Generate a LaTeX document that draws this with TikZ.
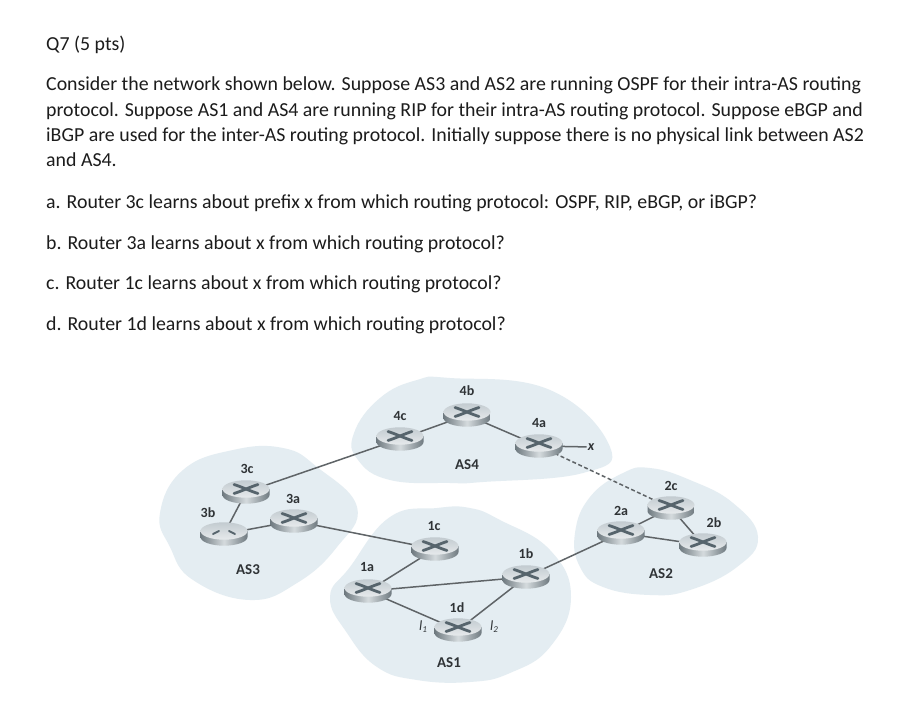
\documentclass[tikz,border=0pt]{standalone}
\usepackage{fontspec}
\setmainfont{Carlito}
\usetikzlibrary{shapes.geometric}
\definecolor{blob}{HTML}{E4EDF2}
\definecolor{linkc}{HTML}{5F6467}
\definecolor{xc}{HTML}{56646C}
\definecolor{topL}{HTML}{E6EAEC}
\definecolor{topD}{HTML}{C3CBD0}
\definecolor{sideD}{HTML}{6F7A80}
\definecolor{sideL}{HTML}{D5DBDE}
\definecolor{txt}{HTML}{1C1C1C}
\definecolor{lab}{HTML}{2F3336}
\tikzset{
  body/.style={inner sep=0pt,anchor=base west,font=\fontsize{19.85}{22}\selectfont,text=txt},
  lbl/.style={inner sep=0pt,font=\fontsize{14}{15}\selectfont\bfseries,text=lab},
  aslbl/.style={inner sep=0pt,font=\fontsize{15}{16}\selectfont\bfseries,text=lab},
  rnode/.style={ellipse,minimum width=45pt,minimum height=20pt,inner sep=0pt},
  link/.style={draw=linkc,line width=1.5pt},
  xstroke/.style={draw=xc,line width=2.8pt,line cap=round},
}
\newcommand{\routerart}[2][1]{%
  \begin{scope}[shift={(#2)}]
    \shade[left color=sideD,right color=sideD,middle color=sideL]
      (-23.5,-3) -- (-23.5,3) arc[start angle=180,end angle=0,x radius=23.5,y radius=8.7] -- (23.5,-3) -- cycle;
    \shade[top color=topD,bottom color=topL] (0,-3) ellipse[x radius=23.5,y radius=8.7];
    \ifnum#1=1
      \draw[xstroke] (-12,-7.5) .. controls (-4,-5) and (4,-1) .. (12,1.5);
      \draw[xstroke] (12,-7.5) .. controls (4,-5) and (-4,-1) .. (-12,1.5);
    \else
      \draw[xstroke,line width=2pt] (-5,-3) -- (-11,0);
      \draw[xstroke,line width=2pt] (5,-3) -- (11,0);
    \fi
  \end{scope}}
\begin{document}
\begin{tikzpicture}[x=1pt,y=-1pt]
\useasboundingbox (0,0) rectangle (910,703);
\fill[white] (0,0) rectangle (910,703);
% question text
\node[body] (q)  at (46,51) {Q7 (5 pts)};
\node[body] (l1) at (46,91) {Consider the network shown below. Suppose AS3 and AS2 are running OSPF for their intra-AS routing};
\node[body] (l2) at (46,117) {protocol. Suppose AS1 and AS4 are running RIP for their intra-AS routing protocol. Suppose eBGP and};
\node[body] (l3) at (46,142) {iBGP are used for the inter-AS routing protocol. Initially suppose there is no physical link between AS2};
\node[body] (l4) at (46,167) {and AS4.};
\node[body] (a) at (46,209) {a. Router 3c learns about prefix x from which routing protocol: OSPF, RIP, eBGP, or iBGP?};
\node[body] (b) at (46,249.5) {b. Router 3a learns about x from which routing protocol?};
\node[body] (c) at (46,290) {c. Router 1c learns about x from which routing protocol?};
\node[body] (d) at (46,330.5) {d. Router 1d learns about x from which routing protocol?};
% AS regions
\fill[blob] plot[smooth cycle,tension=0.75] coordinates {(160,513)(183,470)(233,450)(283,448)(317,467)(357,507)(337,547)(297,583)(250,600)(193,580)(170,547)};
\fill[blob] plot[smooth cycle,tension=0.75] coordinates {(354,433)(380,398)(417,380)(450,378)(550,390)(610,447)(583,473)(483,482)(450,483)(390,480)(358,460)};
\fill[blob] plot[smooth cycle,tension=0.75] coordinates {(330,597)(350,567)(390,517)(437,508)(470,508)(500,520)(550,550)(571,597)(550,647)(510,673)(470,682)(417,680)(377,667)(347,633)};
\fill[blob] plot[smooth cycle,tension=0.75] coordinates {(575,533)(590,497)(623,473)(650,468)(690,480)(733,503)(758,537)(737,567)(690,590)(650,595)(603,587)(580,567)};
% router nodes
\foreach \n/\x/\y in {3c/246/492,3b/224/534,3a/294/521,4c/400/439,4b/467/415,4a/539/446,1c/435/549,1a/368/591,1d/458/630,1b/526/577,2a/621/533,2c/671/508,2b/703/545}{
  \node[rnode] (r\n) at (\x,\y) {};
}
% x label and stub
\node[inner sep=1pt,font=\fontsize{14}{15}\selectfont\bfseries\itshape,text=lab] (xl) at (591,447) {x};
% links
\draw[link] (r3c) -- (r3b);
\draw[link] (r3b) -- (r3a);
\draw[link] (r3c) -- (r4c);
\draw[link] (r3a) -- (r1c);
\draw[link] (r4c) -- (r4b);
\draw[link] (r4b) -- (r4a);
\draw[link] (r4a) -- (xl);
\draw[link,dash pattern=on 4pt off 2.5pt] (r4a) -- (r2c);
\draw[link] (r1c) -- (r1a);
\draw[link] (r1a) -- (r1b);
\draw[link] (r1a) -- (r1d);
\draw[link] (r1d) -- (r1b);
\draw[link] (r1b) -- (r2a);
\draw[link] (r2a) -- (r2c);
\draw[link] (r2a) -- (r2b);
\draw[link] (r2c) -- (r2b);
% router art
\foreach \n in {3c,3a,4c,4b,4a,1c,1a,1d,1b,2a,2c,2b}{\routerart{r\n.center}}
\routerart[0]{r3b.center}
% labels
\foreach \n/\x/\y in {3c/247/469,3b/208/513,3a/293/499,4c/400/416,4b/467/391,4a/539/423,1c/434/526,1a/367/567,1d/457/608,1b/526/554,2a/621/511,2c/671/486,2b/714/523}{
  \node[lbl] (t\n) at (\x,\y) {\n};
}
\node[inner sep=0pt,font=\fontsize{14}{15}\selectfont\itshape,text=lab] (ell1) at (423,627) {l\raisebox{-2pt}{\fontsize{9}{10}\selectfont 1}};
\node[inner sep=0pt,font=\fontsize{14}{15}\selectfont\itshape,text=lab] (ell2) at (494,627) {l\raisebox{-2pt}{\fontsize{9}{10}\selectfont 2}};
\node[aslbl] (as3) at (248,570) {AS3};
\node[aslbl] (as4) at (467,465) {AS4};
\node[aslbl] (as1) at (449,663) {AS1};
\node[aslbl] (as2) at (661,574) {AS2};
\end{tikzpicture}
\end{document}
